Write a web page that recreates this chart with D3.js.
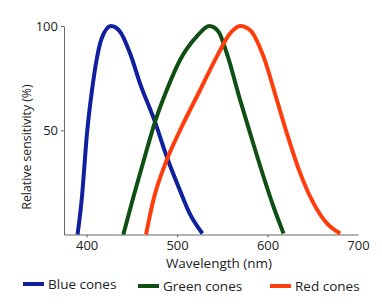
<!DOCTYPE html>
<html>
<head>
<meta charset="utf-8">
<script src="https://cdn.jsdelivr.net/npm/d3@7"></script>
<style>
body { margin: 0; background: #fff; }
text { font-family: "Open Sans", Lato, sans-serif; fill: #222; }
</style>
</head>
<body>
<div id="chart"></div>
<script>
var width = 382, height = 306;

// wavelength (nm), relative sensitivity (%)
var blueCones = [[390,0],[394.5,16.5],[400.7,49.8],[405.5,67.7],[411,83.7],[416.6,94],[427,100],[437,97.3],[448,86.9],[459,72.5],[475.6,54],[488.6,37.3],[503,21.3],[514,10],[528,0.5]];
var greenCones = [[440.6,0],[451.7,18],[466.4,40.5],[475.6,54],[488.6,69.3],[503.3,83.7],[521.8,95],[535.8,100],[545.8,97.3],[555,86.9],[569.7,64.5],[580.8,48.5],[595.6,27.7],[606.6,13.3],[617.7,0.5]];
var redCones = [[465.7,0],[473.8,16.5],[488.6,35.7],[503.3,50],[525.5,69.3],[543.9,85.3],[558.7,96.5],[569.7,100],[580.8,98],[595.6,85.3],[610.3,64.5],[621.4,48.5],[636.2,29.3],[650.9,14.9],[665.7,5.3],[680.4,0.5]];
var xTicks = [400, 500, 600, 700];
var yTicks = [50, 100];
var seriesNames = ["Blue cones", "Green cones", "Red cones"];
var seriesColors = ["#0f1f9e", "#0f4f14", "#ff3d0c"];

var series = [blueCones, greenCones, redCones];

var svg = d3.select("#chart").append("svg").attr("width", width).attr("height", height);

var x = d3.scaleLinear().domain([375, 700]).range([64, 358]);
var y = d3.scaleLinear().domain([0, 100]).range([234.5, 26]);

// axes
var xAxis = svg.append("g").attr("transform", "translate(0,234.5)")
    .call(d3.axisBottom(x).tickValues(xTicks).tickSize(3).tickSizeOuter(0).tickPadding(3));
var yAxis = svg.append("g").attr("transform", "translate(64,0)")
    .call(d3.axisLeft(y).tickValues(yTicks).tickSize(3).tickSizeOuter(0).tickPadding(3));

[xAxis, yAxis].forEach(function(a) {
    a.select(".domain").attr("stroke", "#666");
    a.selectAll(".tick line").attr("stroke", "#666");
    a.selectAll(".tick text").style("font-size", "13px").attr("fill", "#222");
});
xAxis.select(".tick:last-of-type line").remove();

svg.append("text")
    .attr("x", 219).attr("y", 268)
    .attr("text-anchor", "middle")
    .style("font-size", "13.5px")
    .text("Wavelength (nm)");

svg.append("text")
    .attr("transform", "translate(31,147) rotate(-90)")
    .attr("text-anchor", "middle")
    .style("font-size", "12.3px")
    .text("Relative sensitivity (%)");

// curves
var line = d3.line()
    .x(function(d) { return x(d[0]); })
    .y(function(d) { return y(d[1]); })
    .curve(d3.curveMonotoneX);

svg.append("g").selectAll("path")
    .data(series)
    .enter()
    .append("path")
    .attr("d", line)
    .attr("fill", "none")
    .attr("stroke", function(d, i) { return seriesColors[i]; })
    .attr("stroke-width", 4)
    .attr("stroke-linecap", "butt");

// legend
var legendX = [23, 138, 270];
var legendY = [284, 286, 286];
var legend = svg.append("g").selectAll("g")
    .data(seriesNames)
    .enter()
    .append("g")
    .attr("transform", function(d, i) { return "translate(" + legendX[i] + "," + legendY[i] + ")"; });

legend.append("line")
    .attr("x1", 0).attr("x2", 21)
    .attr("stroke", function(d, i) { return seriesColors[i]; })
    .attr("stroke-width", 4);

legend.append("text")
    .attr("x", 25).attr("dy", "0.35em")
    .style("font-size", "13.5px")
    .text(function(d) { return d; });
</script>
</body>
</html>
